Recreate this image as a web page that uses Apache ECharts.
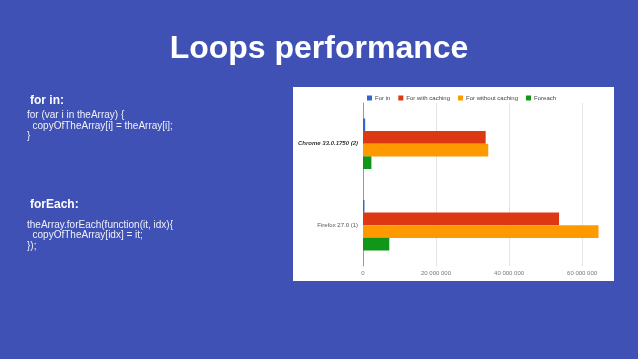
<!DOCTYPE html>
<html>
<head>
<meta charset="utf-8">
<script src="https://cdn.jsdelivr.net/npm/echarts@6/dist/echarts.min.js"></script>
<style>
html,body{margin:0;padding:0;background:#3f51b5;}
#chart{width:638px;height:359px;}
</style>
</head>
<body>
<div id="chart"></div>
<script>
var categories = ['Chrome 33.0.1750 (2)', 'Firefox 27.0 (1)'];
var seriesNames = ['For in', 'For with caching', 'For without caching', 'Foreach'];
var forIn = [600000, 400000];
var forWithCaching = [33600000, 53700000];
var forWithoutCaching = [34300000, 64500000];
var forEachVals = [2300000, 7200000];
var xTicks = [0, 20000000, 40000000, 60000000];

var colors = ['#3366cc', '#dc3912', '#ff9900', '#109618'];
var seriesData = [forIn, forWithCaching, forWithoutCaching, forEachVals];

function fmt(v) {
  return String(v).replace(/\B(?=(\d{3})+(?!\d))/g, ' ');
}

var chart = echarts.init(document.getElementById('chart'));
var sans = '"Liberation Sans", Arial, sans-serif';
var codeColor = '#eef0fa';
var option = {
  backgroundColor: '#3f51b5',
  animation: false,
  graphic: [
    {type: 'rect', shape: {x: 293, y: 87, width: 321, height: 194}, style: {fill: '#ffffff'}, z: -10},
    {type: 'text', left: 'center', top: 33, style: {text: 'Loops performance', fill: '#ffffff', font: 'bold 32px ' + sans}},
    {type: 'text', x: 30, y: 95, style: {text: 'for in:', fill: '#ffffff', font: 'bold 12px ' + sans}},
    {type: 'text', x: 27, y: 110, style: {text: 'for (var i in theArray) {\n  copyOfTheArray[i] = theArray[i];\n}', fill: codeColor, font: '10px ' + sans, lineHeight: 10.5}},
    {type: 'text', x: 30, y: 199, style: {text: 'forEach:', fill: '#ffffff', font: 'bold 12px ' + sans}},
    {type: 'text', x: 27, y: 220, style: {text: 'theArray.forEach(function(it, idx){\n  copyOfTheArray[idx] = it;\n});', fill: codeColor, font: '10px ' + sans, lineHeight: 10.3}}
  ],
  legend: {
    left: 362, top: 90,
    itemWidth: 5, itemHeight: 5, itemGap: 8,
    icon: 'rect',
    textStyle: {fontSize: 6, color: '#444', fontFamily: sans, padding: [0, 0, 0, -2]},
    data: seriesNames
  },
  grid: {left: 363, right: 34, top: 103, bottom: 93, containLabel: false},
  xAxis: {
    type: 'value', min: 0, max: 66000000, interval: 20000000,
    axisLine: {show: false}, axisTick: {show: false},
    splitLine: {show: true, showMaxLine: false, lineStyle: {color: '#e4e4e4', width: 1}},
    axisLabel: {fontSize: 6, color: '#777', margin: 4, showMaxLabel: false, fontFamily: sans,
      formatter: function (v) { return xTicks.indexOf(v) >= 0 ? fmt(v) : ''; }}
  },
  yAxis: {
    type: 'category', inverse: true, data: categories,
    axisLine: {show: true, lineStyle: {color: '#999', width: 1}},
    axisTick: {show: false},
    axisLabel: {
      fontSize: 6, margin: 5, fontFamily: sans,
      formatter: function (v, i) { return i === 0 ? '{b|' + v + '}' : '{n|' + v + '}'; },
      rich: {
        b: {fontSize: 6, fontWeight: 'bold', fontStyle: 'italic', color: '#333', fontFamily: sans},
        n: {fontSize: 6, color: '#555', fontFamily: sans}
      }
    }
  },
  series: seriesNames.map(function (name, i) {
    return {
      name: name, type: 'bar', data: seriesData[i],
      barGap: '0%', barCategoryGap: '38%',
      itemStyle: {color: colors[i]}
    };
  })
};
chart.setOption(option);
</script>
</body>
</html>
